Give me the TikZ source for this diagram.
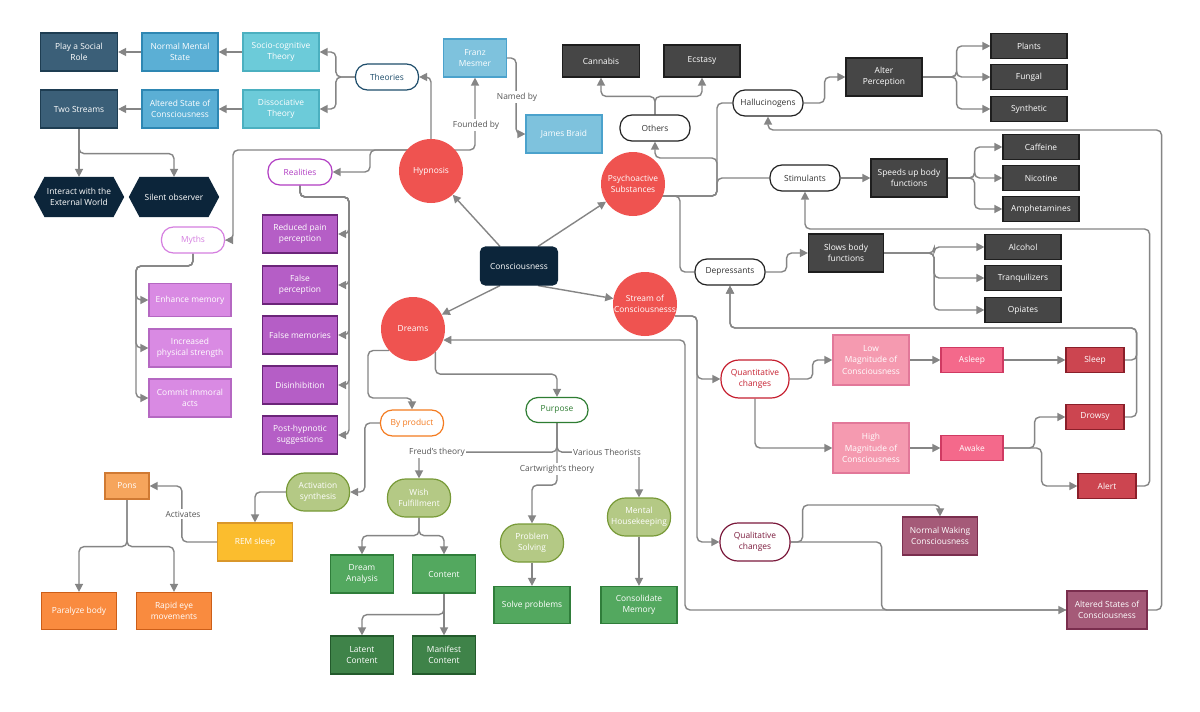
\documentclass[tikz,border=0pt]{standalone}
\usepackage{fontspec}
\setmainfont{Open Sans}
\usetikzlibrary{arrows.meta,shapes.symbols,backgrounds,calc}
\newcommand{\fsz}{\fontsize{8.4}{11.2}\selectfont}
\definecolor{lc}{HTML}{858585}
\definecolor{lblc}{HTML}{555555}
\definecolor{navy}{HTML}{0C253A}
\definecolor{slate}{HTML}{3B5F78}
\definecolor{slateb}{HTML}{1E3D52}
\definecolor{mblue}{HTML}{5BAFD5}
\definecolor{mblueb}{HTML}{2E87B3}
\definecolor{cyanA}{HTML}{6CCBD9}
\definecolor{cyanB}{HTML}{4BB0C0}
\definecolor{lblue}{HTML}{7EC2DD}
\definecolor{lblueb}{HTML}{4BA2CC}
\definecolor{theo}{HTML}{1E4D6B}
\definecolor{redc}{HTML}{EF5350}
\definecolor{realc}{HTML}{B13DC3}
\definecolor{purp}{HTML}{B55EC6}
\definecolor{purpb}{HTML}{6B2579}
\definecolor{mythc}{HTML}{D57FE0}
\definecolor{lpurp}{HTML}{D98AE3}
\definecolor{lpurpb}{HTML}{B568C2}
\definecolor{dgray}{HTML}{464646}
\definecolor{dgrayb}{HTML}{1E1E1E}
\definecolor{pillk}{HTML}{222222}
\definecolor{quantc}{HTML}{C62030}
\definecolor{pinkA}{HTML}{F59AB0}
\definecolor{pinkB}{HTML}{E27899}
\definecolor{rosA}{HTML}{F4698B}
\definecolor{rosB}{HTML}{CF3A62}
\definecolor{crimA}{HTML}{CC4550}
\definecolor{crimB}{HTML}{8A1F2A}
\definecolor{qualc}{HTML}{7B1A3C}
\definecolor{mauA}{HTML}{A55A78}
\definecolor{mauB}{HTML}{7A2E4E}
\definecolor{orc}{HTML}{F47B20}
\definecolor{purpc}{HTML}{2E7D32}
\definecolor{gl}{HTML}{B4C985}
\definecolor{glb}{HTML}{789A38}
\definecolor{gA}{HTML}{53A85F}
\definecolor{gB}{HTML}{2F7D3A}
\definecolor{dgA}{HTML}{3F8349}
\definecolor{dgB}{HTML}{235A2C}
\definecolor{remA}{HTML}{FBBD2E}
\definecolor{remB}{HTML}{D9972B}
\definecolor{ponA}{HTML}{F6A55C}
\definecolor{ponB}{HTML}{D07A33}
\definecolor{orA}{HTML}{F98B3F}
\definecolor{orB}{HTML}{CC5E18}
\begin{document}
\begin{tikzpicture}[x=1pt,y=-1pt,
 conn/.style={draw=lc, line width=1.4pt, rounded corners=5pt},
 arr/.style={conn, -{Triangle[length=8pt,width=8pt]}},
 base/.style={align=center, font=\fsz, inner sep=1pt, line width=1.2pt, text=white},
 sq/.style 2 args={base, rectangle, fill=#1, draw=#2},
 pill/.style={base, rectangle, rounded corners=12pt, fill=white, draw=#1, text=#1},
 blob/.style={base, rectangle, rounded corners=18pt, fill=gl, draw=glb, minimum width=63pt, minimum height=38pt},
 circ/.style={circle, fill=redc, minimum size=64pt, inner sep=0pt},
 ctext/.style={font=\fsz, text=white, align=center},
 hexa/.style={base, signal, signal to=east and west, signal pointer angle=124, fill=navy, draw=navy},
 lbl/.style={font=\fsz, text=lblc, fill=white, inner sep=1.5pt},
 sz/.style 2 args={minimum width=#1, minimum height=#2}]

% ---- top left
\node[sq={slate}{slateb}, sz={77}{38}] (play) at (79,52) {Play a Social\\Role};
\node[sq={mblue}{mblueb}, sz={76}{38}] (normal) at (180,52) {Normal Mental\\State};
\node[sq={cyanA}{cyanB}, sz={76}{38}] (socio) at (281,52) {Socio-cognitive\\Theory};
\node[sq={slate}{slateb}, sz={77}{38}] (two) at (79,109) {Two Streams};
\node[sq={mblue}{mblueb}, sz={76}{38}] (altst) at (180,109) {Altered State of\\Consciousness};
\node[sq={cyanA}{cyanB}, sz={76}{38}] (dissoc) at (281,109) {Dissociative\\Theory};
\node[pill=theo, sz={63}{26}] (theories) at (387,77) {Theories};
\node[hexa, sz={89}{39}] (interact) at (79,197) {Interact with the\\External World};
\node[hexa, sz={89}{39}] (silent) at (174,197) {Silent observer};
\node[sq={lblue}{lblueb}, sz={63}{38}] (franz) at (475,58) {Franz\\Mesmer};
\node[sq={lblue}{lblueb}, sz={76}{38}] (james) at (564,134) {James Braid};

% ---- circles and centre
\node[circ, label={[ctext]center:Hypnosis}] (hypnosis) at (431,171) {};
\node[circ, label={[ctext]center:{Psychoactive\\Substances}}] (psycho) at (633,184) {};
\node[circ, label={[ctext]center:Dreams}] (dreams) at (413,329) {};
\node[circ, label={[ctext]center:{Stream of\\Consciousnesss}}] (stream) at (645,304) {};
\node[sq={navy}{navy}, rounded corners=5pt, sz={77}{38}] (consc) at (519,266) {Consciousness};

% ---- hypnosis branch
\node[pill=realc, sz={64}{26}] (realities) at (300,172) {Realities};
\node[pill=mythc, sz={63}{26}] (myths) at (193,240) {Myths};
\node[sq={purp}{purpb}, sz={75}{38}] (reduced) at (300,234) {Reduced pain\\perception};
\node[sq={purp}{purpb}, sz={75}{38}] (falsep) at (300,285) {False\\perception};
\node[sq={purp}{purpb}, sz={75}{38}] (falsem) at (300,335) {False memories};
\node[sq={purp}{purpb}, sz={75}{38}] (disinh) at (300,385) {Disinhibition};
\node[sq={purp}{purpb}, sz={75}{38}] (posth) at (300,435) {Post-hypnotic\\suggestions};
\node[sq={lpurp}{lpurpb}, sz={82}{33}] (enhance) at (190,300) {Enhance memory};
\node[sq={lpurp}{lpurpb}, sz={82}{38}] (increased) at (190,348) {Increased\\physical strength};
\node[sq={lpurp}{lpurpb}, sz={82}{38}] (commit) at (190,398) {Commit immoral\\acts};

% ---- psychoactive branch
\node[sq={dgray}{dgrayb}, sz={77}{32}] (cannabis) at (601,61) {Cannabis};
\node[sq={dgray}{dgrayb}, sz={76}{32}] (ecstasy) at (702,61) {Ecstasy};
\node[pill=pillk, text=black!80, sz={70}{26}] (others) at (655,128) {Others};
\node[pill=pillk, text=black!80, sz={70}{26}] (halluc) at (768,103) {Hallucinogens};
\node[sq={dgray}{dgrayb}, sz={76}{38}] (alter) at (884,77) {Alter\\Perception};
\node[sq={dgray}{dgrayb}, sz={76}{25}] (plants) at (1029,46) {Plants};
\node[sq={dgray}{dgrayb}, sz={76}{25}] (fungal) at (1029,77) {Fungal};
\node[sq={dgray}{dgrayb}, sz={76}{25}] (synth) at (1029,109) {Synthetic};
\node[pill=pillk, text=black!80, sz={70}{26}] (stim) at (805,178) {Stimulants};
\node[sq={dgray}{dgrayb}, sz={76}{38}] (speeds) at (909,178) {Speeds up body\\functions};
\node[sq={dgray}{dgrayb}, sz={76}{25}] (caffeine) at (1041,147) {Caffeine};
\node[sq={dgray}{dgrayb}, sz={76}{25}] (nicotine) at (1041,178) {Nicotine};
\node[sq={dgray}{dgrayb}, sz={76}{25}] (amph) at (1041,209) {Amphetamines};
\node[pill=pillk, text=black!80, sz={70}{26}] (depress) at (730,272) {Depressants};
\node[sq={dgray}{dgrayb}, sz={75}{38}] (slows) at (846,253) {Slows body\\functions};
\node[sq={dgray}{dgrayb}, sz={76}{25}] (alcohol) at (1023,247) {Alcohol};
\node[sq={dgray}{dgrayb}, sz={76}{25}] (tranq) at (1023,278) {Tranquilizers};
\node[sq={dgray}{dgrayb}, sz={76}{25}] (opiates) at (1023,310) {Opiates};

% ---- stream branch
\node[pill=quantc, rounded corners=18pt, sz={68}{38}] (quant) at (755,379) {Quantitative\\changes};
\node[sq={pinkA}{pinkB}, sz={76}{50}] (low) at (871,360) {Low\\Magnitude of\\Consciousness};
\node[sq={rosA}{rosB}, sz={62}{25}] (asleep) at (972,360) {Asleep};
\node[sq={crimA}{crimB}, sz={58}{25}] (sleep) at (1095,360) {Sleep};
\node[sq={pinkA}{pinkB}, sz={76}{50}] (high) at (871,448) {High\\Magnitude of\\Consciousness};
\node[sq={rosA}{rosB}, sz={62}{25}] (awake) at (972,448) {Awake};
\node[sq={crimA}{crimB}, sz={58}{25}] (drowsy) at (1095,417) {Drowsy};
\node[sq={crimA}{crimB}, sz={58}{25}] (alert) at (1107,486) {Alert};
\node[pill=qualc, rounded corners=18pt, sz={70}{38}] (qual) at (755,542) {Qualitative\\changes};
\node[sq={mauA}{mauB}, sz={75}{38}] (nwc) at (940,536) {Normal Waking\\Consciousness};
\node[sq={mauA}{mauB}, sz={80}{38}] (altered) at (1107,610) {Altered States of\\Consciousness};

% ---- dreams branch
\node[pill=orc, sz={63}{26}] (byprod) at (412,423) {By product};
\node[pill=purpc, sz={62}{25}] (purpose) at (557,410) {Purpose};
\node[blob] (act) at (318,492) {Activation\\synthesis};
\node[sq={remA}{remB}, sz={75}{38}] (rem) at (255,542) {REM sleep};
\node[sq={ponA}{ponB}, sz={44}{26}] (pons) at (127,486) {Pons};
\node[sq={orA}{orB}, sz={75}{37}] (paral) at (79,611) {Paralyze body};
\node[sq={orA}{orB}, sz={75}{37}] (rapid) at (174,611) {Rapid eye\\movements};
\node[blob] (wish) at (419,498) {Wish\\Fulfillment};
\node[sq={gA}{gB}, sz={63}{38}] (da) at (362,574) {Dream\\Analysis};
\node[sq={gA}{gB}, sz={63}{38}] (content) at (444,574) {Content};
\node[sq={dgA}{dgB}, sz={63}{38}] (latent) at (362,655) {Latent\\Content};
\node[sq={dgA}{dgB}, sz={63}{38}] (manifest) at (444,655) {Manifest\\Content};
\node[blob] (problem) at (532,543) {Problem\\Solving};
\node[sq={gA}{gB}, sz={76}{37}] (solve) at (532,605) {Solve problems};
\node[blob] (mental) at (639,517) {Mental\\Housekeeping};
\node[sq={gA}{gB}, sz={76}{37}] (consol) at (639,605) {Consolidate\\Memory};

\coordinate (hypH) at ($(hypnosis.center)+(0,-21)$);
\coordinate (psyR) at ($(psycho.center)+(29,12)$);
\coordinate (strR) at ($(stream.center)+(30,12)$);

\begin{pgfonlayer}{background}
\fill[white] (0,0) rectangle (1200,712);
% theories
\draw[arr] (theories.west) -- ++(-19,0) |- (socio.east);
\draw[arr] (theories.west) -- ++(-19,0) |- (dissoc.east);
\draw[arr] (socio.west) -- (normal.east);
\draw[arr] (normal.west) -- (play.east);
\draw[arr] (dissoc.west) -- (altst.east);
\draw[arr] (altst.west) -- (two.east);
\draw[arr] (two.south) -- (interact.north);
\draw[arr] (two.south) -- ++(0,25) -| (silent.north);
% hypnosis
\draw[arr] (hypnosis.north) |- (theories.east);
\draw[arr] (hypH) -| (franz.south);
\draw[arr] (franz.east) -- ++(9,0) |- (james.west);
\draw[arr] (hypH) -- (370,150) |- (realities.east);
\draw[arr] (hypH) -- (233,150) |- (myths.east);
\draw[arr] (realities.south) |- (349,197) |- (reduced.east);
\draw[arr] (realities.south) |- (349,197) |- (falsep.east);
\draw[arr] (realities.south) |- (349,197) |- (falsem.east);
\draw[arr] (realities.south) |- (349,197) |- (disinh.east);
\draw[arr] (realities.south) |- (349,197) |- (posth.east);
\draw[arr] (myths.south) |- (136,266) |- (enhance.west);
\draw[arr] (myths.south) |- (136,266) |- (increased.west);
\draw[arr] (myths.south) |- (136,266) |- (commit.west);
% centre
\draw[arr] ($(consc.north)+(-19,0)$) -- (hypnosis);
\draw[arr] ($(consc.north)+(19,0)$) -- (psycho);
\draw[arr] ($(consc.south)+(-19,0)$) -- (dreams);
\draw[arr] ($(consc.south)+(19,0)$) -- (stream);
% psychoactive
\draw[conn] (psyR) -- (717,196) |- (halluc.west);
\draw[conn] (psyR) -- (717,196) |- (stim.west);
\draw[arr] (psyR) -- (717,196) |- (655,158) -- (others.south);
\draw[conn] (psyR) -- (680,196) |- (depress.west);
\draw[arr] (others.north) -- ++(0,-18) -| (cannabis.south);
\draw[arr] (others.north) -- ++(0,-18) -| (ecstasy.south);
\draw[arr] (halluc.east) -- ++(21,0) |- (alter.west);
\draw[arr] (alter.east) -- ++(34,0) |- (plants.west);
\draw[arr] (alter.east) -- ++(34,0) |- (fungal.west);
\draw[arr] (alter.east) -- ++(34,0) |- (synth.west);
\draw[arr] (stim.east) -- (speeds.west);
\draw[arr] (speeds.east) -- ++(27,0) |- (caffeine.west);
\draw[arr] (speeds.east) -- ++(27,0) |- (nicotine.west);
\draw[arr] (speeds.east) -- ++(27,0) |- (amph.west);
\draw[arr] (depress.east) -- ++(21,0) |- (slows.west);
\draw[arr] (slows.east) -- ++(50,0) |- (alcohol.west);
\draw[arr] (slows.east) -- ++(50,0) |- (tranq.west);
\draw[arr] (slows.east) -- ++(50,0) |- (opiates.west);
% stream
\draw[arr] (strR) -- (697,316) |- (quant.west);
\draw[arr] (strR) -- (697,316) |- (qual.west);
\draw[arr] (quant.east) -- ++(23,0) |- (low.west);
\draw[arr] (quant.south) |- (high.west);
\draw[arr] (low.east) -- (asleep.west);
\draw[arr] (asleep.east) -- (sleep.west);
\draw[arr] (high.east) -- (awake.west);
\draw[arr] (awake.east) -- ++(31,0) |- (drowsy.west);
\draw[arr] (awake.east) -- ++(38,0) |- (alert.west);
\draw[arr] (sleep.east) -- ++(12,0) |- (730,328) -- (depress.south);
\draw[arr] (drowsy.east) -- ++(12,0) |- (730,328) -- (depress.south);
\draw[arr] (alert.east) -- ++(13,0) |- (805,229) -- (stim.south);
\draw[arr] (altered.east) -- ++(14,0) |- (768,130) -- (halluc.south);
\draw[arr] (qual.east) -- ++(12,0) |- (940,505) -- (nwc.north);
\draw[arr] (qual.east) -- ++(91,0) |- (altered.west);
\draw[arr] (altered.west) -- (685,610) |- (dreams.-20);
% dreams
\draw[arr] (dreams.222) -| (368,398) -| (byprod.north);
\draw[arr] (dreams.-46) -- ++(0,22) -| (purpose.north);
\draw[arr] (byprod.west) -- ++(-15,0) |- (act.east);
\draw[arr] (act.west) -| (rem.north);
\draw[arr] (rem.west) -- ++(-35,0) |- (pons.east);
\draw[arr] (pons.south) -- ++(0,47) -| (paral.north);
\draw[arr] (pons.south) -- ++(0,47) -| (rapid.north);
\draw[arr] (purpose.south) -- ++(0,29) -| (wish.north);
\draw[arr] (purpose.south) -- ++(0,29) -| (mental.north);
\draw[arr] (purpose.south) -- ++(0,62) -| (problem.north);
\draw[arr] (wish.south) -- ++(0,18) -| (da.north);
\draw[arr] (wish.south) -- ++(0,18) -| (content.north);
\draw[arr] (content.south) -- ++(0,21) -| (latent.north);
\draw[arr] (content.south) -- (manifest.north);
\draw[arr] (problem.south) -- (solve.north);
\draw[arr] (mental.south) -- (consol.north);
\end{pgfonlayer}

% ---- connector labels
\node[lbl] (lfound) at (476,125) {Founded by};
\node[lbl] (lnamed) at (517,97) {Named by};
\node[lbl] (lact) at (183,514) {Activates};
\node[lbl] (lfreud) at (437,452) {Freud's theory};
\node[lbl] (lvar) at (607,452) {Various Theorists};
\node[lbl] (lcart) at (557,469) {Cartwright's theory};
\end{tikzpicture}
\end{document}
